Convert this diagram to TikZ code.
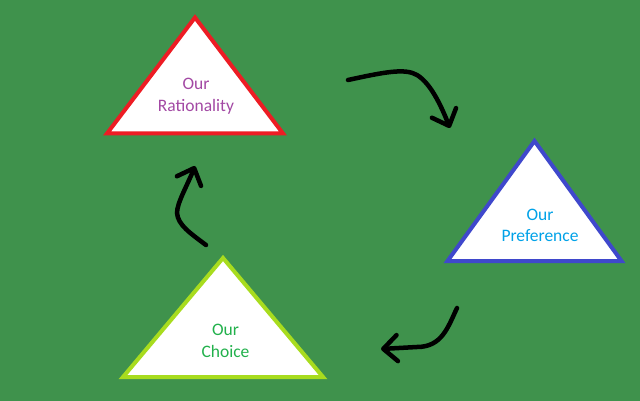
\documentclass[tikz,border=0pt]{standalone}
\usepackage{fontspec}
\setmainfont{Carlito}
\usetikzlibrary{shapes.geometric,arrows.meta}
\definecolor{bggreen}{HTML}{3F924C}
\definecolor{ratred}{HTML}{ED1C24}
\definecolor{prefblue}{HTML}{3F48CC}
\definecolor{choicegreen}{HTML}{A8DC1E}
\definecolor{rattext}{HTML}{A349A4}
\definecolor{preftext}{HTML}{00A2E8}
\definecolor{choicetext}{HTML}{22B14C}
\begin{document}
\begin{tikzpicture}
  [x=1pt,y=-1pt,
   tri/.style={fill=white,shape=isosceles triangle,isosceles triangle stretches,
     shape border rotate=90,inner sep=0pt,outer sep=0pt,line width=4pt,line join=miter,anchor=apex},
   trilabel/.style={align=center,font=\fontsize{17.5pt}{21.5pt}\selectfont},
   cyclearrow/.style={line width=4.5pt,line cap=round,
     -{Straight Barb[length=14pt,width=26pt,line width=4.5pt,round]}}]
  \fill[bggreen] (0,0) rectangle (640,401);
  \useasboundingbox (0,0) rectangle (640,401);
  \node[tri,draw=ratred,minimum width=176pt,minimum height=116pt] (rat) at (195,17.5) {};
  \node[tri,draw=prefblue,minimum width=174pt,minimum height=120pt] (pref) at (534.5,141) {};
  \node[tri,draw=choicegreen,minimum width=200pt,minimum height=119pt] (choice) at (223,258) {};
  \node[trilabel,text=rattext] (ratlabel) at (196,96) {Our\\Rationality};
  \node[trilabel,text=preftext] (preflabel) at (540,225.5) {Our\\Preference};
  \node[trilabel,text=choicetext] (choicelabel) at (225.5,341) {Our\\Choice};
  \coordinate (ratout) at (348,80);
  \coordinate (prefin) at (450,128);
  \coordinate (prefout) at (457,308);
  \coordinate (choicein) at (381,349);
  \coordinate (choiceout) at (206,245);
  \coordinate (ratin) at (195,166);
  \draw[cyclearrow] (ratout) .. controls (385,72) and (405,68) .. (417,75) .. controls (430,83) and (440,103) .. (prefin);
  \draw[cyclearrow] (prefout) .. controls (448,327) and (442,347) .. (417,347) -- (choicein);
  \draw[cyclearrow] (choiceout) .. controls (190,233) and (178,225) .. (177,213) .. controls (177,203) and (187,186) .. (ratin);
\end{tikzpicture}
\end{document}
